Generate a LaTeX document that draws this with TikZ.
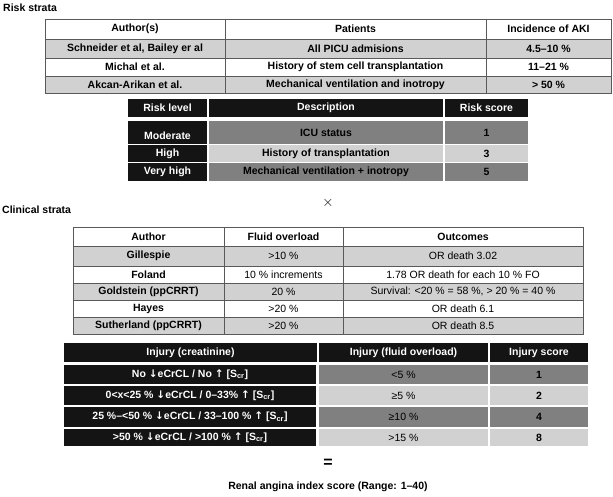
\documentclass[tikz,border=0pt]{standalone}
\usepackage{fontspec}
\setmainfont{Liberation Sans}
\newfontfamily\dv{DejaVu Sans}
\newcommand\dn{{\dv\char"2193}}
\newcommand\up{{\dv\char"2191}}
\newcommand\mycell[7][]{%
  \node[cellbase,#1,minimum width={(#5-#3)*1pt},minimum height={(#6-#4)*1pt}] (#2) at ({(#3+#5)/2},{(#4+#6)/2}) {#7};}
\tikzset{
  cellbase/.style={inner sep=0pt,outer sep=0pt,font=\bfseries\fontsize{10.5}{12}\selectfont,text=black},
  grid1/.style={draw=black!65,line width=0.8pt},
  wcell/.style={fill=white},
  gcell/.style={fill=black!18},
  blk/.style={fill=black!92,text=white},
  dkg/.style={fill=black!50},
  ltg/.style={fill=black!18},
  plain/.style={font=\fontsize{10.5}{12}\selectfont},
  title/.style={font=\bfseries\fontsize{10.5}{12}\selectfont,anchor=west,inner sep=0pt}
}
\begin{document}
\begin{tikzpicture}[x=1pt,y=-1pt]
\useasboundingbox (0,0) rectangle (613,497);
\node[title] (t1) at (3,8) {Risk strata};
% Table 1
\mycell[grid1,wcell]{a11}{45}{19}{225}{39}{Author(s)}
\mycell[grid1,wcell]{a12}{225}{19}{486}{39}{Patients}
\mycell[grid1,wcell]{a13}{486}{19}{611}{39}{Incidence of AKI}
\mycell[grid1,gcell]{a21}{45}{39}{225}{58}{Schneider et al, Bailey er al}
\mycell[grid1,gcell]{a22}{225}{39}{486}{58}{All PICU admisions}
\mycell[grid1,gcell]{a23}{486}{39}{611}{58}{4.5–10 \%}
\mycell[grid1,wcell]{a31}{45}{58}{225}{76}{Michal et al.}
\mycell[grid1,wcell]{a32}{225}{58}{486}{76}{History of stem cell transplantation}
\mycell[grid1,wcell]{a33}{486}{58}{611}{76}{11–21 \%}
\mycell[grid1,gcell]{a41}{45}{76}{225}{93}{Akcan-Arikan et al.}
\mycell[grid1,gcell]{a42}{225}{76}{486}{93}{Mechanical ventilation and inotropy}
\mycell[grid1,gcell]{a43}{486}{76}{611}{93}{> 50 \%}
% Table 2
\mycell[blk]{b11}{128}{99}{207}{117}{Risk level}
\mycell[blk]{b12}{209}{99}{443}{117}{Description}
\mycell[blk]{b13}{445}{99}{528}{117}{Risk score}
\mycell[blk,text depth=0pt,anchor=center]{b21}{128}{121}{207}{144}{\raisebox{-6pt}{Moderate}}
\mycell[dkg]{b22}{209}{121}{443}{144}{\raisebox{-6pt}{ICU status}}
\mycell[dkg]{b23}{445}{121}{528}{144}{\raisebox{-6pt}{1}}
\mycell[blk]{b31}{128}{145.5}{207}{162}{High}
\mycell[ltg]{b32}{209}{145.5}{443}{162}{History of transplantation}
\mycell[ltg]{b33}{445}{145.5}{528}{162}{3}
\mycell[blk]{b41}{128}{163.5}{207}{181}{Very high}
\mycell[dkg]{b42}{209}{163.5}{443}{181}{Mechanical ventilation + inotropy}
\mycell[dkg]{b43}{445}{163.5}{528}{181}{5}
\node[font=\fontsize{15}{16}\selectfont,inner sep=0pt] (times) at (328,203) {$\times$};
\node[title] (t2) at (2,210) {Clinical strata};
% Table 3
\tikzset{grid3/.style={draw=black!65,line width=0.6pt}}
\mycell[grid3,wcell]{c11}{73}{227}{224}{246}{Author}
\mycell[grid3,wcell]{c12}{224}{227}{343}{246}{Fluid overload}
\mycell[grid3,wcell]{c13}{343}{227}{583}{246}{Outcomes}
\mycell[grid3,gcell]{c21}{73}{246}{224}{266}{Gillespie}
\mycell[grid3,gcell,plain]{c22}{224}{246}{343}{266}{>10 \%}
\mycell[grid3,gcell,plain]{c23}{343}{246}{583}{266}{OR death 3.02}
\mycell[grid3,wcell]{c31}{73}{266}{224}{283}{Foland}
\mycell[grid3,wcell,plain]{c32}{224}{266}{343}{283}{10 \% increments}
\mycell[grid3,wcell,plain]{c33}{343}{266}{583}{283}{1.78 OR death for each 10 \% FO}
\mycell[grid3,gcell]{c41}{73}{283}{224}{300}{Goldstein (ppCRRT)}
\mycell[grid3,gcell,plain]{c42}{224}{283}{343}{300}{20 \%}
\mycell[grid3,gcell,plain]{c43}{343}{283}{583}{300}{Survival: <20 \% = 58 \%, > 20 \% = 40 \%}
\mycell[grid3,wcell]{c51}{73}{300}{224}{317}{Hayes}
\mycell[grid3,wcell,plain]{c52}{224}{300}{343}{317}{>20 \%}
\mycell[grid3,wcell,plain]{c53}{343}{300}{583}{317}{OR death 6.1}
\mycell[grid3,gcell]{c61}{73}{317}{224}{334}{Sutherland (ppCRRT)}
\mycell[grid3,gcell,plain]{c62}{224}{317}{343}{334}{>20 \%}
\mycell[grid3,gcell,plain]{c63}{343}{317}{583}{334}{OR death 8.5}
% Table 4
\mycell[blk]{d11}{64}{343}{317}{362}{Injury (creatinine)}
\mycell[blk]{d12}{319}{343}{488}{362}{Injury (fluid overload)}
\mycell[blk]{d13}{490}{343}{588}{362}{Injury score}
\mycell[blk]{d21}{64}{365}{316}{384}{No \dn eCrCL / No \up\ [S\textsubscript{cr}]}
\mycell[dkg]{d22}{319}{365}{488}{384}{\mdseries <5 \%}
\mycell[dkg]{d23}{490}{365}{588}{384}{1}
\mycell[blk]{d31}{64}{386}{316}{405}{0<x<25 \% \dn eCrCL / 0–33\% \up\ [S\textsubscript{cr}]}
\mycell[ltg]{d32}{319}{386}{488}{405}{\mdseries ≥5 \%}
\mycell[ltg]{d33}{490}{386}{588}{405}{2}
\mycell[blk]{d41}{64}{407}{316}{427}{25 \%–<50 \% \dn eCrCL / 33–100 \% \up\ [S\textsubscript{cr}]}
\mycell[dkg]{d42}{319}{407}{488}{427}{\mdseries ≥10 \%}
\mycell[dkg]{d43}{490}{407}{588}{427}{4}
\mycell[blk]{d51}{64}{429}{316}{446}{>50 \% \dn eCrCL / >100 \% \up\ [S\textsubscript{cr}]}
\mycell[ltg]{d52}{319}{429}{488}{446}{\mdseries >15 \%}
\mycell[ltg]{d53}{490}{429}{588}{446}{8}
\node[font=\bfseries\fontsize{16}{16}\selectfont,inner sep=0pt] (eq) at (328,463) {=};
\node[font=\bfseries\fontsize{10.5}{12}\selectfont,inner sep=0pt] (ra) at (328,487) {Renal angina index score (Range: 1–40)};
\end{tikzpicture}
\end{document}
